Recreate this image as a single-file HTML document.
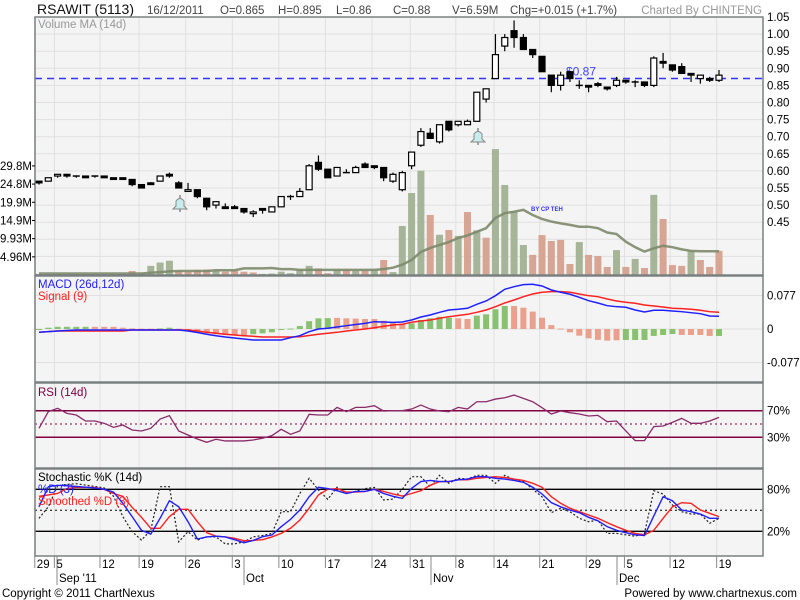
<!DOCTYPE html>
<html><head><meta charset="utf-8"><title>RSAWIT (5113) chart</title>
<style>
html,body{margin:0;padding:0;background:#fff;}
svg{display:block;font-family:"Liberation Sans",sans-serif;}
</style></head>
<body>
<svg id="chart" width="800" height="600" viewBox="0 0 800 600" xmlns="http://www.w3.org/2000/svg">
<rect x="0" y="0" width="800" height="600" fill="#fff"/>
<g font-size="11.5" fill="#444">
<text x="37" y="14" font-size="14" fill="#111">RSAWIT (5113)</text>
<text x="147" y="14">16/12/2011</text>
<text x="220" y="14">O=0.865</text>
<text x="278" y="14">H=0.895</text>
<text x="336" y="14">L=0.86</text>
<text x="393" y="14">C=0.88</text>
<text x="452" y="14">V=6.59M</text>
<text x="510" y="14">Chg=+0.015 (+1.7%)</text>
<text x="762" y="14" text-anchor="end" fill="#999">Charted By CHINTENG</text>
</g>
<g id="layer"></g>
<text x="2" y="597" font-size="11.5" fill="#000">Copyright © 2011 ChartNexus</text>
<text x="797" y="597" font-size="11.5" fill="#000" text-anchor="end">Powered by www.chartnexus.com</text>
</svg>
<script>
// ---- data ----
const opens  = [.57,.57,.585,.59,.585,.585,.585,.585,.58,.58,.575,.56,.565,.57,.59,.565,.54,.545,.52,.50,.495,.495,.49,.475,.49,.48,.495,.525,.525,.545,.625,.605,.585,.595,.595,.62,.615,.61,.57,.545,.615,.675,.71,.685,.745,.735,.735,.745,.81,.87,.965,1.01,.99,.955,.935,.88,.85,.89,.85,.85,.855,.845,.85,.865,.86,.86,.85,.92,.91,.905,.885,.87,.87,.865];
const highs  = [.57,.58,.59,.59,.585,.585,.585,.585,.58,.58,.575,.56,.567,.585,.595,.57,.565,.545,.52,.51,.505,.50,.49,.485,.49,.495,.525,.53,.55,.62,.645,.605,.61,.605,.615,.625,.615,.61,.595,.60,.655,.725,.725,.735,.745,.745,.75,.83,.84,1.00,1.00,1.04,1.00,.955,.935,.88,.89,.89,.865,.85,.86,.845,.875,.865,.865,.86,.935,.945,.91,.915,.885,.88,.875,.895];
const lows   = [.56,.57,.58,.58,.58,.58,.58,.58,.575,.575,.555,.55,.56,.57,.58,.55,.54,.52,.485,.49,.49,.49,.475,.465,.475,.48,.495,.515,.525,.545,.60,.58,.585,.595,.595,.61,.605,.57,.565,.54,.605,.67,.695,.68,.715,.73,.735,.745,.80,.87,.95,.96,.955,.93,.89,.83,.835,.86,.84,.83,.845,.835,.845,.855,.845,.845,.845,.90,.89,.885,.86,.855,.86,.86];
const closes = [.565,.58,.59,.585,.585,.58,.585,.58,.575,.575,.56,.55,.56,.585,.585,.55,.545,.525,.495,.51,.49,.49,.48,.48,.485,.495,.525,.525,.54,.615,.605,.58,.61,.595,.61,.61,.61,.58,.59,.595,.655,.715,.695,.735,.72,.745,.745,.83,.84,.94,.99,.99,.955,.94,.89,.85,.88,.87,.85,.845,.85,.84,.865,.86,.86,.85,.93,.915,.895,.885,.88,.88,.865,.88];
const volumes = [0.3,0.3,0.3,0.3,0.3,0.3,0.3,0.3,0.3,0.4,1.1,0.5,2.5,3.4,3.9,1.1,0.8,1.4,1.5,1.1,0.9,1.2,0.9,0.7,0.3,0.4,0.9,0.5,1.4,2.5,1.8,0.5,1.4,1.4,1.2,1.2,1.2,4.1,0.8,13.4,22.4,28.5,16.4,11,12.3,10.7,17.2,12.2,10.2,34.4,24.6,17.3,8.2,5.5,10.9,9.3,9.6,3.0,9.0,5.5,5.2,2.2,6.8,2.2,4.4,1.9,21.9,15.3,2.7,2.5,6.6,4.1,2.2,6.6];
const volDir = "uuuuuuuuuudduuuddddudddduuuuuuddudududuuuududududuuuudddddudddudududddudddddu";
const volMA = [0.4,0.4,0.4,0.4,0.4,0.4,0.4,0.4,0.4,0.4,0.4,0.4,0.6,0.8,1.0,1.1,1.1,1.1,1.1,1.3,1.3,1.3,1.8,1.8,1.8,1.9,1.6,1.6,1.4,1.4,1.4,1.4,1.4,1.4,1.4,1.4,1.4,1.6,2.0,2.8,4.1,6.3,7.4,8.2,9.0,10.1,10.8,11.8,12.8,15.6,16.9,17.3,17.8,16.4,15.3,14.6,14.1,13.7,13.2,13.2,12.8,11.6,11.2,9.1,7.6,6.4,7.3,8.0,7.6,7.0,6.6,6.5,6.5,6.5];
const macdLine = [-.0076,-.006,-.0046,-.0034,-.0023,-.0023,-.0023,-.0023,-.0023,-.0023,-.0023,-.0023,-.0023,-.0023,-.0023,-.0023,-.0046,-.008,-.012,-.0154,-.0184,-.0207,-.023,-.0253,-.0253,-.0253,-.0253,-.02,-.0154,-.0062,0,.0016,.0046,.0076,.0103,.013,.0168,.016,.0153,.016,.0207,.0276,.0322,.0384,.0437,.0453,.0476,.0568,.0644,.0766,.0913,.0973,.1019,.1028,.0989,.0897,.0844,.0798,.0729,.0651,.0598,.0536,.0513,.0499,.0437,.0391,.043,.043,.0414,.0398,.0375,.0352,.0299,.0292];
const signalLine = [-.0076,-.006,-.0046,-.0046,-.0046,-.0046,-.0046,-.0046,-.0046,-.0046,-.0023,-.0023,-.0023,-.0023,-.0023,-.0023,-.0023,-.0046,-.0076,-.0099,-.0122,-.0138,-.0154,-.0168,-.0184,-.0184,-.0184,-.0184,-.0177,-.015,-.0122,-.0099,-.0076,-.0046,-.0023,0,.003,.0062,.0092,.0108,.0154,.0184,.0207,.0246,.0283,.031,.0338,.0384,.0437,.0513,.0598,.0667,.0743,.0805,.0844,.0858,.0858,.0844,.0805,.0766,.0743,.069,.0644,.0614,.0591,.0552,.0529,.0506,.0476,.0467,.0453,.043,.0398,.0384];
const macdHist = [0,.003,.005,.005,.005,.005,.005,.005,.005,.003,.0015,.0008,.0008,.0015,.003,.0008,0,-.006,-.01,-.012,-.014,-.015,-.015,-.012,-.01,-.0077,-.001,.001,.007,.018,.0245,.025,.0255,.0245,.024,.023,.023,.019,.015,.011,.013,.0207,.0245,.028,.026,.0245,.023,.0307,.0337,.0452,.053,.053,.049,.04,.026,.009,.001,-.0077,-.0153,-.0215,-.025,-.0268,-.026,-.0253,-.0253,-.0253,-.016,-.0138,-.0115,-.0138,-.0138,-.0138,-.016,-.016];
const histDir = "ggggggrrrrrrrggrrrrrrrrgggggggggrrrrrrrrgggggrrggggrrrrrrrrrrrrggggggrrrrg";
const rsi = [43.5,68.5,73.6,66,63.5,54.5,54.5,51,45,48.5,41,39.5,43.5,57.5,62.5,39.5,33.5,27.5,22.5,27,24.5,24.5,24.5,26,28.5,32.5,42,34.5,39.5,64.5,63.5,63.5,75,68.5,75,75,77.5,69.5,70,70,72.5,78.5,72.5,69.5,68.5,75,72.5,83.5,83.5,87.5,89.5,93.5,88.5,83.5,74.5,65,69.5,67,65,62,63,53.5,54.5,39.5,25,25,46,47,52.5,58.5,51,51,54.5,60];
const stochK = [38.5,55,85,87,88,86,84,82,70,41,19.5,7.5,21.5,83.7,83.7,5,19.5,7.5,12,12,2,2,5,12,14,17,48,48,74,95.7,79,65.7,83,74,77,81,82.7,64.7,66,80,98,98,83.7,100,88.6,95.7,94.7,100,100,88.6,100,93.6,91.4,80,69.4,46.6,52.9,48,38.6,33.7,36,17,17,15,13,17,78,73.3,57.6,48,44.7,44.7,31.4,38.6];
const stochD = [55,83.7,85.7,85,84,83,82,80,76,60,41,21.4,16,38.6,63.7,55,33.7,9,12,13,12,8,3.7,7,12.3,14.7,26.6,37,50.4,69.4,83,81,78,74,77,77,80,74,70,67,81.4,91,92.7,91,91,93.6,94.6,98,98,95.7,94.6,92.7,90,83,73.3,60.9,55,50.4,46.6,40,35,26.6,21.4,18,15,14,41.9,69.4,63.7,50.4,48,44.7,38.6,38.6];
const stochSD = [70,72,74,81,82.7,82.7,82.7,80,74,70,54.3,40,24.3,24.3,41,51.4,51.4,33.7,18,13,12,10,6.6,7,8,12,17,24.3,36,53,72,80,81,76,76,77,80,77,73.3,70.4,74,78,85.7,91,91,93.6,93.6,95.7,97,98,97,94.6,92.7,88.6,83,69.4,60,53,48,43.3,38.6,32.4,26.6,21.4,17,15,21.4,38.6,55,60.9,60,50.4,45.7,41];
const priceTicks = ["1.05","1.00","0.95","0.90","0.85","0.80","0.75","0.70","0.65","0.60","0.55","0.50","0.45"];
const volTicks = ["29.8M","24.8M","19.9M","14.9M","9.93M","4.96M"];
const volTickVals = [29.8,24.84,19.87,14.9,9.93,4.96];
const dateLabels = ["29","5","12","19","26","3","10","17","24","31","8","14","21","29","5","12","19"];
const dateIdx = [1,3.1,8,12.2,17.2,22.2,27.2,32.2,37.2,41.3,46.2,50.3,55.2,60.2,64.3,69.2,74.2];
const monthLabels = ["Sep '11","Oct","Nov","Dec"];
const monthIdx = [2,22,42,62];

// ---- scales ----
const L=35,R=763;
const xOf=i=>39+i*9.315;
const yP=p=>17+(1.05-p)*342;
const yV=v=>275-v*3.66;
const yM=m=>329-m*435;
const yR=r=>437.3-(r-30)*0.665;
const yS=s=>531.3-(s-20)*0.7;

const NS="http://www.w3.org/2000/svg";
const layer=document.getElementById('layer');
function mk(tag,attrs,parent){const e=document.createElementNS(NS,tag);for(const k in attrs)e.setAttribute(k,attrs[k]);(parent||layer).appendChild(e);return e;}
function grp(){const g=document.createElementNS(NS,'g');layer.appendChild(g);return g;}

// panels
const panels=[[17,275],[276,382],[383,468],[469,556]];
const pg=grp();


panels.forEach(p=>{mk('rect',{x:L,y:p[0],width:R-L,height:p[1]-p[0],fill:'#f4f4f4'},pg);});

// grid
const gg=grp();


dateIdx.forEach(d=>{const x=xOf(d-1)-4.7+0.5;panels.forEach(p=>mk('line',{x1:x,x2:x,y1:p[0],y2:p[1],stroke:'#e0e0e0','stroke-width':1},gg));});
for(let k=0;k<15;k++){const y=yP(1.05-k*0.05);if(y>17&&y<275)mk('line',{x1:L,x2:R,y1:y,y2:y,stroke:'#e0e0e0'},gg);}
[0.077,0,-0.077].forEach(v=>mk('line',{x1:L,x2:R,y1:yM(v),y2:yM(v),stroke:'#e0e0e0'},gg));

// volume
const vg=grp();


volumes.forEach((v,i)=>{const r=mk('rect',{x:xOf(i)-3.5,y:yV(v),width:7,height:275-yV(v),fill:volDir[i]==='u'?'#a6b497':'#d6a593'},vg);

});
const ma=mk('polyline',{points:volMA.map((v,i)=>xOf(i)+','+yV(v)).join(' '),fill:'none',stroke:'#7d8a6c','stroke-width':2.5,opacity:0.9});



// reference line
const ref=mk('line',{x1:L,x2:R,y1:yP(0.87),y2:yP(0.87),stroke:'#3333ff','stroke-width':1.5,'stroke-dasharray':'7,5'});


const refl=mk('text',{x:566,y:yP(0.87)-3,fill:'#4444ff','font-size':12});refl.textContent='$0.87';



// candles
const cg=grp();


opens.forEach((o,i)=>{const c=closes[i],x=xOf(i);
const g=document.createElementNS(NS,'g');cg.appendChild(g);


mk('line',{x1:x,x2:x,y1:yP(highs[i]),y2:yP(lows[i]),stroke:'#000','stroke-width':1.2},g);
const top=yP(Math.max(o,c)),bot=yP(Math.min(o,c));
if(Math.abs(o-c)<1e-9){mk('line',{x1:x-3.5,x2:x+3.5,y1:top,y2:top,stroke:'#000','stroke-width':1.5},g);}
else mk('rect',{x:x-3,y:top,width:6,height:Math.max(bot-top,1.5),fill:c<o?'#000':'#fff',stroke:'#000','stroke-width':1.2},g);});

// bells
[[180,204],[478,137]].forEach(b=>{const g=document.createElementNS(NS,'g');layer.appendChild(g);


mk('path',{d:`M${b[0]-7} ${b[1]+5} L${b[0]-4} ${b[1]+2} L${b[0]-4} ${b[1]-3} Q${b[0]} ${b[1]-8} ${b[0]+4} ${b[1]-3} L${b[0]+4} ${b[1]+2} L${b[0]+7} ${b[1]+5} Z`,fill:'#c6ecec',stroke:'#888','stroke-width':1},g);
mk('line',{x1:b[0],x2:b[0],y1:b[1]+5,y2:b[1]+8,stroke:'#888','stroke-width':1.5},g);
mk('line',{x1:b[0],x2:b[0],y1:b[1]-9,y2:b[1]-6,stroke:'#888','stroke-width':1.5},g);});
const byl=mk('text',{x:531,y:211,fill:'#3333ff','font-size':6,'font-weight':'bold'});byl.textContent='BY CP TEH';


const vml=mk('text',{x:38,y:28,fill:'#999','font-size':11.5});vml.textContent='Volume MA (14d)';



// MACD
const hg=grp();


macdHist.forEach((h,i)=>{const y0=yM(0),y1=yM(h);const r=mk('rect',{x:xOf(i)-3,y:Math.min(y0,y1),width:6,height:Math.max(Math.abs(y1-y0),1),fill:histDir[i]==='g'?'#88c270':'#e9a08c'},hg);

});
const sl=mk('polyline',{points:signalLine.map((v,i)=>xOf(i)+','+yM(v)).join(' '),fill:'none',stroke:'#ff2020','stroke-width':1.5});


const ml=mk('polyline',{points:macdLine.map((v,i)=>xOf(i)+','+yM(v)).join(' '),fill:'none',stroke:'#2020ff','stroke-width':1.5});


const t1=mk('text',{x:38,y:288,fill:'#2020ff','font-size':11.5});t1.textContent='MACD (26d,12d)';


const t2=mk('text',{x:38,y:300,fill:'#ff2020','font-size':11.5});t2.textContent='Signal (9)';



// RSI
[[70,'none'],[30,'none'],[50,'2,3']].forEach(r=>mk('line',{x1:L,x2:R,y1:yR(r[0]),y2:yR(r[0]),stroke:'#800040','stroke-width':r[1]==='none'?1.5:1,'stroke-dasharray':r[1]}));
const rl=mk('polyline',{points:rsi.map((v,i)=>xOf(i)+','+yR(v)).join(' '),fill:'none',stroke:'#8b2a6a','stroke-width':1.3});


const t3=mk('text',{x:38,y:396,fill:'#800040','font-size':11.5});t3.textContent='RSI (14d)';



// Stochastic
[[80,'none'],[20,'none'],[50,'2,3']].forEach(r=>mk('line',{x1:L,x2:R,y1:yS(r[0]),y2:yS(r[0]),stroke:'#000','stroke-width':r[1]==='none'?1.3:1,'stroke-dasharray':r[1]}));
const kl=mk('polyline',{points:stochK.map((v,i)=>xOf(i)+','+yS(v)).join(' '),fill:'none',stroke:'#222','stroke-width':1.2,'stroke-dasharray':'2,2'});


const sdl=mk('polyline',{points:stochSD.map((v,i)=>xOf(i)+','+yS(v)).join(' '),fill:'none',stroke:'#ff2020','stroke-width':1.4});


const dl=mk('polyline',{points:stochD.map((v,i)=>xOf(i)+','+yS(v)).join(' '),fill:'none',stroke:'#2020ff','stroke-width':1.4});


const t4=mk('text',{x:38,y:481,fill:'#000','font-size':11.5});t4.textContent='Stochastic %K (14d)';


const t5=mk('text',{x:38,y:493,fill:'#2020ff','font-size':11.5});t5.textContent='%D (3)';


const t6=mk('text',{x:38,y:505,fill:'#ff2020','font-size':11.5});t6.textContent='Smoothed %D (3)';



// borders
panels.forEach(p=>{const b=mk('rect',{x:L,y:p[0],width:R-L,height:p[1]-p[0],fill:'none',stroke:'#7a8080','stroke-width':1.5});

});

// right axes
const ax=grp();


function lab(x,y,s,anchor){const t=mk('text',{x:x,y:y+4,'font-size':11.5,fill:'#000','text-anchor':anchor||'start'},ax);t.textContent=s;return t;}
priceTicks.forEach(s=>{lab(767,yP(parseFloat(s)),s);});
lab(767,yM(0.077),'0.077');lab(767,yM(0),'0');lab(767,yM(-0.077),'-0.077');
lab(767,yR(70),'70%');lab(767,yR(30),'30%');
lab(767,yS(80),'80%');lab(767,yS(20),'20%');
// left volume axis
volTicks.forEach((s,k)=>{const y=yV(volTickVals[k]);lab(32,y,s,'end');mk('line',{x1:32,x2:35,y1:y,y2:y,stroke:'#000'},ax);});

// date axis
const dg=grp();


dateLabels.forEach((s,k)=>{const x=xOf(dateIdx[k]-1)-4.7+0.5;mk('line',{x1:x,x2:x,y1:556,y2:568,stroke:'#888'},dg);
const t=mk('text',{x:x+2,y:568,'font-size':11.5,fill:'#000'},dg);t.textContent=s;

});
monthLabels.forEach((s,k)=>{const x=[57,244,431,617][k];mk('line',{x1:x,x2:x,y1:556,y2:585,stroke:'#888'},dg);
const t=mk('text',{x:x+2,y:582,'font-size':11.5,fill:'#000'},dg);t.textContent=s;

});
</script>
</body></html>
